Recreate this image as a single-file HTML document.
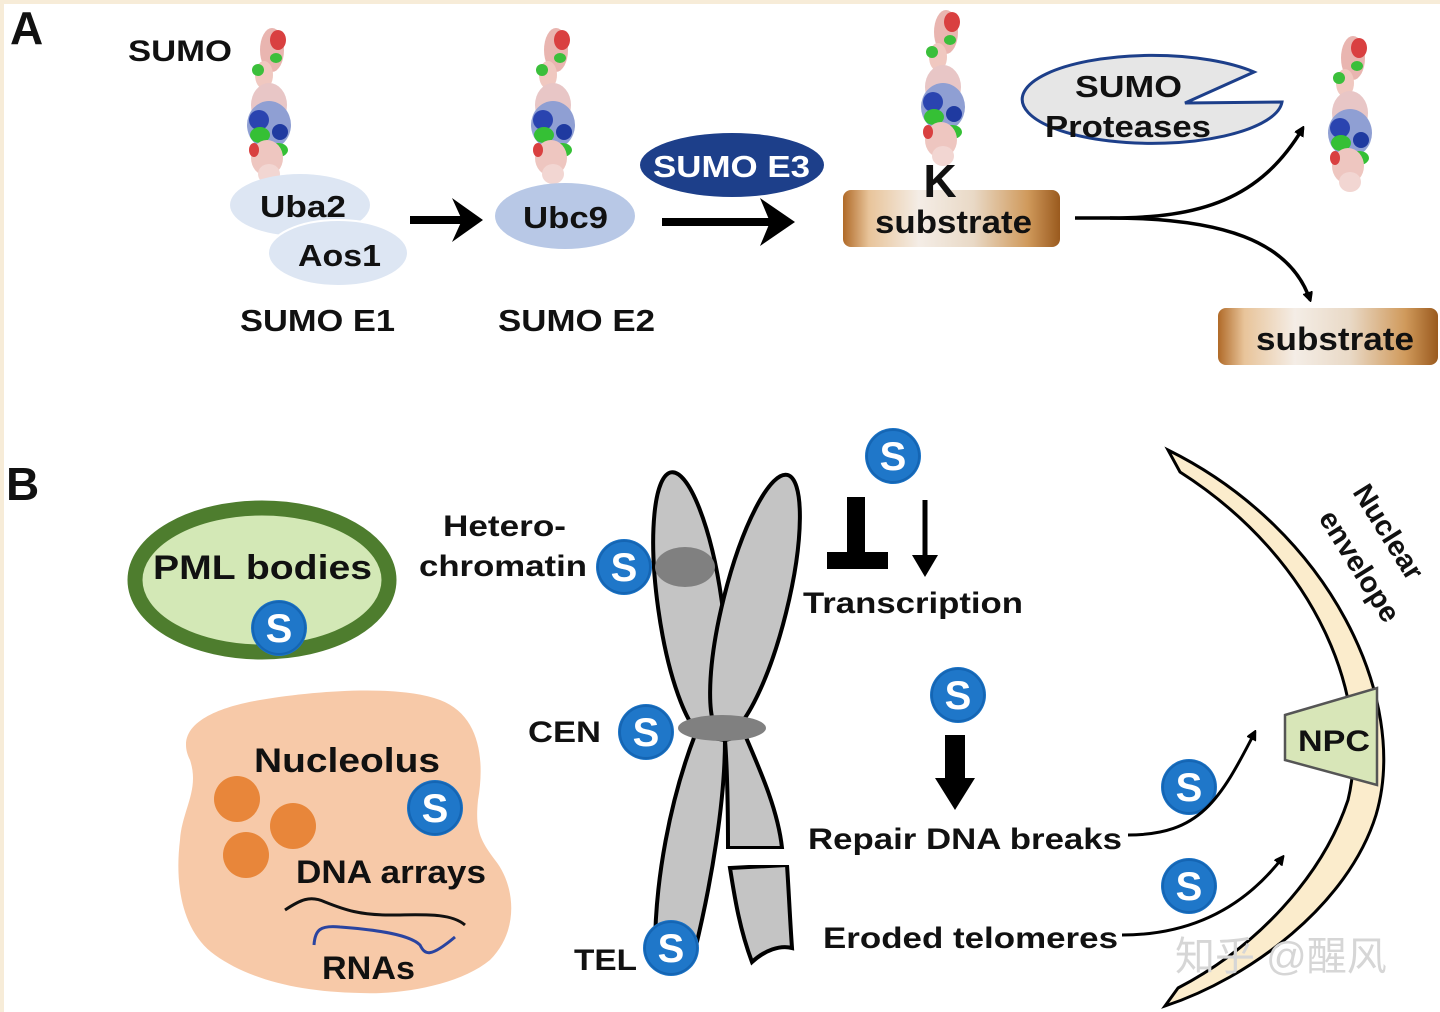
<!DOCTYPE html>
<html><head><meta charset="utf-8"><style>
html,body{margin:0;padding:0;background:#fff;}
svg{display:block;}
text{font-family:"Liberation Sans",Arial,sans-serif;font-weight:bold;fill:#111;}
</style></head><body>
<svg width="1440" height="1012" viewBox="0 0 1440 1012" xmlns="http://www.w3.org/2000/svg">
<defs>
<linearGradient id="sub" x1="0" y1="0" x2="1" y2="0">
<stop offset="0" stop-color="#b06a28"/><stop offset="0.12" stop-color="#e8c49a"/><stop offset="0.35" stop-color="#f4ede6"/><stop offset="0.6" stop-color="#e9d9c6"/><stop offset="0.85" stop-color="#d09a5c"/><stop offset="1" stop-color="#9a5a1e"/>
</linearGradient>
<marker id="ah" markerWidth="10" markerHeight="10" refX="8" refY="5" orient="auto" markerUnits="userSpaceOnUse" viewBox="0 0 10 10"><path d="M0,0 L10,5 L0,10 L3,5 Z" fill="#000" transform="scale(1.6) translate(-3,-2)"/></marker>
<g id="sumo">
<ellipse cx="8" cy="-60" rx="12" ry="22" fill="#e9b5b0"/>
<ellipse cx="14" cy="-70" rx="8" ry="10" fill="#d94040"/>
<ellipse cx="0" cy="-35" rx="9" ry="14" fill="#f0c8c0"/>
<ellipse cx="-6" cy="-40" rx="6" ry="6" fill="#3bbf3b"/>
<ellipse cx="12" cy="-52" rx="6" ry="5" fill="#3bbf3b"/>
<ellipse cx="5" cy="-5" rx="18" ry="22" fill="#e8c6c6"/>
<ellipse cx="5" cy="15" rx="22" ry="24" fill="#8f9fd3"/>
<ellipse cx="-5" cy="10" rx="10" ry="10" fill="#2a44b0"/>
<ellipse cx="16" cy="22" rx="8" ry="8" fill="#1f3aa0"/>
<ellipse cx="-4" cy="25" rx="10" ry="8" fill="#35c035"/>
<ellipse cx="14" cy="40" rx="10" ry="7" fill="#35c035"/>
<ellipse cx="3" cy="48" rx="16" ry="18" fill="#eec6c0"/>
<ellipse cx="-10" cy="40" rx="5" ry="7" fill="#d94040"/>
<ellipse cx="5" cy="64" rx="11" ry="10" fill="#f2d6d2"/>
</g>
<g id="sbadge"><circle r="28" fill="#1a73c6"/><circle r="26" fill="#1f77c9" stroke="#1565b3" stroke-width="2"/><text x="0" y="14" text-anchor="middle" font-size="40" style="fill:#fff">S</text></g>
</defs>
<rect x="0" y="0" width="1440" height="4" fill="#f7ecd8"/>
<rect x="0" y="0" width="4" height="1012" fill="#f7ecd8"/>

<!-- Panel A -->
<text x="10" y="44" font-size="46">A</text>
<text x="128" y="61" font-size="30" textLength="104" lengthAdjust="spacingAndGlyphs">SUMO</text>
<use href="#sumo" x="264" y="110"/>
<use href="#sumo" x="548" y="110"/>
<use href="#sumo" x="938" y="92"/>
<use href="#sumo" x="1345" y="118"/>
<ellipse cx="300" cy="205" rx="70" ry="31" fill="#dde6f3"/>
<ellipse cx="338" cy="253" rx="70" ry="33" fill="#dde6f3" stroke="#fff" stroke-width="2"/>
<text x="260" y="217" font-size="31" textLength="86" lengthAdjust="spacingAndGlyphs">Uba2</text>
<text x="298" y="266" font-size="31" textLength="83" lengthAdjust="spacingAndGlyphs">Aos1</text>
<line x1="410" y1="220" x2="472" y2="220" stroke="#000" stroke-width="8"/>
<path d="M452,198 L483,220 L452,242 L462,220 Z" fill="#000"/>
<ellipse cx="565" cy="216" rx="70" ry="33" fill="#b8c8e6"/>
<text x="523" y="228" font-size="31" textLength="85" lengthAdjust="spacingAndGlyphs">Ubc9</text>
<ellipse cx="732" cy="165" rx="92" ry="32" fill="#1d3f8a"/>
<text x="653" y="177" font-size="31" textLength="157" lengthAdjust="spacingAndGlyphs" style="fill:#fff">SUMO E3</text>
<line x1="662" y1="222" x2="782" y2="222" stroke="#000" stroke-width="8"/>
<path d="M760,198 L795,222 L760,246 L770,222 Z" fill="#000"/>
<text x="240" y="331" font-size="31" textLength="155" lengthAdjust="spacingAndGlyphs">SUMO E1</text>
<text x="498" y="331" font-size="31" textLength="157" lengthAdjust="spacingAndGlyphs">SUMO E2</text>
<rect x="843" y="190" width="217" height="57" rx="8" fill="url(#sub)"/>
<text x="940" y="197" font-size="46" text-anchor="middle">K</text>
<text x="875" y="233" font-size="32" textLength="157" lengthAdjust="spacingAndGlyphs">substrate</text>
<rect x="1218" y="308" width="220" height="57" rx="8" fill="url(#sub)"/>
<text x="1256" y="350" font-size="32" textLength="158" lengthAdjust="spacingAndGlyphs">substrate</text>
<path d="M1282,102 L1185,103 L1254,72 A130,44 0 1 0 1282,102 Z" fill="#e6e6e6" stroke="#1d3f8a" stroke-width="3"/>
<text x="1075" y="97" font-size="31" textLength="107" lengthAdjust="spacingAndGlyphs">SUMO</text>
<text x="1045" y="137" font-size="31" textLength="166" lengthAdjust="spacingAndGlyphs">Proteases</text>
<path d="M1075,218 L1110,218 C1200,218 1260,200 1303,128" fill="none" stroke="#000" stroke-width="3.5" marker-end="url(#ah)"/>
<path d="M1110,218 C1220,218 1290,240 1310,300" fill="none" stroke="#000" stroke-width="3.5" marker-end="url(#ah)"/>

<!-- Panel B -->
<text x="6" y="500" font-size="46">B</text>
<ellipse cx="262" cy="580" rx="127" ry="72" fill="#d3e8b6" stroke="#4e7d2e" stroke-width="15"/>
<text x="153" y="579" font-size="34" textLength="219" lengthAdjust="spacingAndGlyphs">PML bodies</text>
<use href="#sbadge" x="279" y="628"/>

<path d="M190,760 C170,720 230,705 260,700 C320,690 400,685 440,700 C480,715 485,760 478,800 C475,830 480,840 495,860 C515,885 520,930 490,960 C460,985 400,995 360,993 C300,992 250,980 215,955 C180,930 175,880 180,840 C182,810 200,790 190,760 Z" fill="#f7c9a8"/>
<text x="254" y="772" font-size="34" textLength="186" lengthAdjust="spacingAndGlyphs">Nucleolus</text>
<circle cx="237" cy="799" r="23" fill="#e8863a"/>
<circle cx="293" cy="826" r="23" fill="#e8863a"/>
<circle cx="246" cy="855" r="23" fill="#e8863a"/>
<use href="#sbadge" x="435" y="808"/>
<text x="296" y="883" font-size="32" textLength="190" lengthAdjust="spacingAndGlyphs">DNA arrays</text>
<path d="M285,910 C300,900 310,895 325,902 C345,910 360,915 390,915 C420,915 450,912 465,925" fill="none" stroke="#111" stroke-width="3"/>
<path d="M314,945 C315,930 320,925 340,927 C380,930 410,935 420,945 C425,955 430,958 455,937" fill="none" stroke="#2a44a0" stroke-width="3"/>
<text x="322" y="979" font-size="32" textLength="93" lengthAdjust="spacingAndGlyphs">RNAs</text>

<text x="443" y="536" font-size="30" textLength="123" lengthAdjust="spacingAndGlyphs">Hetero-</text>
<text x="419" y="576" font-size="30" textLength="168" lengthAdjust="spacingAndGlyphs">chromatin</text>
<!-- chromosome -->
<ellipse cx="690" cy="605" rx="32" ry="134" transform="rotate(-8 690 605)" fill="#c4c4c4" stroke="#000" stroke-width="4"/>
<ellipse cx="755" cy="605" rx="32" ry="134" transform="rotate(14 755 605)" fill="#c4c4c4" stroke="#000" stroke-width="4"/>
<path d="M695,735 C670,800 655,880 655,950 L695,950 C712,880 725,800 725,740 Z" fill="#c4c4c4" stroke="#000" stroke-width="4"/>
<path d="M725,740 C728,780 728,820 728,848 L782,848 C778,810 760,770 745,735 Z" fill="#c4c4c4" stroke="#000" stroke-width="4"/>
<path d="M730,868 C735,900 740,930 752,962 C765,950 780,945 792,948 C790,920 789,895 787,865 Z" fill="#c4c4c4" stroke="#000" stroke-width="4"/>
<rect x="726" y="849" width="66" height="16" fill="#fff"/>
<ellipse cx="685" cy="567" rx="30" ry="20" fill="#808080"/>
<ellipse cx="722" cy="728" rx="44" ry="13" fill="#808080"/>
<use href="#sbadge" x="624" y="567"/>
<text x="528" y="742" font-size="30" textLength="73" lengthAdjust="spacingAndGlyphs">CEN</text>
<use href="#sbadge" x="646" y="732"/>
<text x="574" y="970" font-size="30" textLength="63" lengthAdjust="spacingAndGlyphs">TEL</text>
<use href="#sbadge" x="671" y="948"/>

<use href="#sbadge" x="893" y="456"/>
<rect x="847" y="497" width="18" height="60" fill="#000"/>
<rect x="827" y="552" width="61" height="17" fill="#000"/>
<line x1="925" y1="500" x2="925" y2="560" stroke="#000" stroke-width="5"/>
<path d="M912,555 L925,577 L938,555 Z" fill="#000"/>
<text x="803" y="613" font-size="30" textLength="220" lengthAdjust="spacingAndGlyphs">Transcription</text>
<use href="#sbadge" x="958" y="695"/>
<rect x="945" y="735" width="20" height="45" fill="#000"/>
<path d="M935,778 L955,810 L975,778 Z" fill="#000"/>
<text x="808" y="849" font-size="30" textLength="314" lengthAdjust="spacingAndGlyphs">Repair DNA breaks</text>
<text x="823" y="948" font-size="30" textLength="295" lengthAdjust="spacingAndGlyphs">Eroded telomeres</text>
<use href="#sbadge" x="1189" y="787"/>
<use href="#sbadge" x="1189" y="886"/>

<path d="M1168,450 C1330,530 1410,700 1376,815 C1348,905 1250,978 1165,1006 L1178,988 C1255,948 1322,878 1348,800 C1372,700 1318,560 1180,472 Z" fill="#fbeccc" stroke="#000" stroke-width="3"/>
<path d="M1285,715 L1377,688 L1377,785 L1285,760 Z" fill="#d8e6b8" stroke="#555" stroke-width="2.5"/>
<text x="1298" y="751" font-size="30" textLength="72" lengthAdjust="spacingAndGlyphs">NPC</text>
<text transform="translate(1352,492) rotate(58)" font-size="29">Nuclear</text>
<text transform="translate(1318,518) rotate(58)" font-size="29">envelope</text>
<path d="M1128,835 C1200,835 1220,800 1255,732" fill="none" stroke="#000" stroke-width="3" marker-end="url(#ah)"/>
<path d="M1122,935 C1200,935 1250,900 1283,857" fill="none" stroke="#000" stroke-width="3" marker-end="url(#ah)"/>
<text x="1175" y="970" font-size="40" style="fill:#d6d6d6;font-weight:normal;font-family:'Liberation Sans','Noto Sans CJK SC',sans-serif">知乎 @醒风</text>
</svg>
</body></html>
